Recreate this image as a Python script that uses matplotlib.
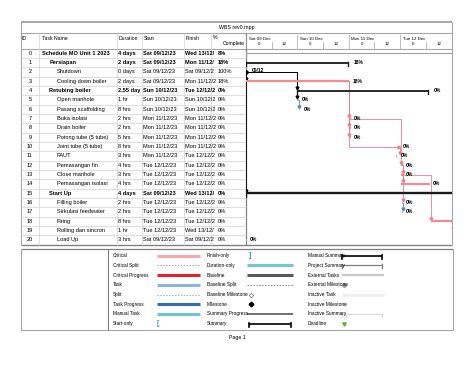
import matplotlib
matplotlib.use("Agg")
import matplotlib.pyplot as plt

plt.rcParams['font.family'] = ['Liberation Sans', 'DejaVu Sans']

# ---- table data ----
ids = list(range(21))
names = ["Schedule MO Unit 1 2023", "Persiapan", "Shutdown", "Cooling down boiler",
         "Retubing boiler", "Open manhole", "Pasang scaffolding", "Buka isolasi",
         "Drain boiler", "Potong tube (5 tube)", "Joint tube (5 tube)", "PAUT",
         "Pemasangan fin", "Close manhole", "Pemasangan isolasi", "Start Up",
         "Filling boiler", "Sirkulasi feedwater", "Firing", "Rolling dan sincron", "Load Up"]
levels = [0, 1, 2, 2, 1, 2, 2, 2, 2, 2, 2, 2, 2, 2, 2, 1, 2, 2, 2, 2, 2]
durations = ["4 days", "2 days", "0 days", "2 days", "2,55 days", "1 hr", "8 hrs", "2 hrs",
             "2 hrs", "5 hrs", "8 hrs", "3 hrs", "4 hrs", "3 hrs", "4 hrs", "4 days",
             "2 hrs", "2 hrs", "8 hrs", "1 hr", "3 hrs"]
starts = ["Sat 09/12/23", "Sat 09/12/23", "Sat 09/12/23", "Sat 09/12/23", "Sun 10/12/23",
          "Sun 10/12/23", "Sun 10/12/23", "Mon 11/12/23", "Mon 11/12/23", "Mon 11/12/23",
          "Mon 11/12/23", "Mon 11/12/23", "Tue 12/12/23", "Tue 12/12/23", "Tue 12/12/23",
          "Sat 09/12/23", "Tue 12/12/23", "Tue 12/12/23", "Tue 12/12/23", "Tue 12/12/23",
          "Sat 09/12/23"]
finishes = ["Wed 13/12/23", "Mon 11/12/23", "Sat 09/12/23", "Mon 11/12/23", "Tue 12/12/23",
            "Sun 10/12/23", "Sun 10/12/23", "Mon 11/12/23", "Mon 11/12/23", "Mon 11/12/23",
            "Mon 11/12/23", "Tue 12/12/23", "Tue 12/12/23", "Tue 12/12/23", "Tue 12/12/23",
            "Wed 13/12/23", "Tue 12/12/23", "Tue 12/12/23", "Tue 12/12/23", "Wed 13/12/23",
            "Sat 09/12/23"]
pcts = ["8%", "18%", "100%", "18%", "0%", "0%", "0%", "0%", "0%", "0%", "0%", "0%", "0%",
        "0%", "0%", "0%", "0%", "0%", "0%", "0%", "0%"]

# ---- gantt data (hours from Sat 09 Dec 00:00) ----
start_h = [0, 0, 0, 0, 24, 24, 24.6, 48.4, 48.4, 48.4, 71.4, 70.0, 72.5, 72.5, 72.3,
           0, 72.8, 72.8, 86.5, 96.3, 0]
finish_h = [96.5, 47.6, 0, 48.3, 85.0, 24.6, 25.4, 48.9, 48.9, 48.9, 72.0, 70.7, 73.2, 73.2,
            86.0, 96.5, 73.4, 73.4, 96.5, 96.8, 0.4]
kinds = ['project', 'summary', 'milestone', 'critical', 'summary', 'task', 'task',
         'critical', 'critical', 'critical', 'critical', 'critical', 'critical', 'critical',
         'critical', 'summary', 'task', 'task', 'critical', 'critical', 'task']
bar_labels = ['', '18%', '09/12', '18%', '0%', '0%', '0%', '0%', '0%', '0%', '0%', '0%',
              '0%', '0%', '0%', '', '0%', '0%', '', '', '0%']
# (pred, succ, route, colour key)
links = [(2, 3, 'v', 'k'), (2, 4, 'hv', 'k'), (2, 5, 'hv', 'k'), (2, 15, 'v', 'k'),
         (5, 6, 'v', 'b'), (3, 7, 'v', 'r'), (3, 8, 'v', 'r'), (3, 9, 'v', 'r'),
         (3, 10, 'vh', 'r'), (7, 12, 'hv', 'r'), (10, 11, 'v', 'r'), (12, 13, 'v', 'r'),
         (12, 14, 'v', 'r'), (12, 16, 'v', 'r'), (16, 17, 'v', 'b'), (13, 18, 'hv', 'r'),
         (18, 19, 'v', 'r')]
days = ["Sat 09 Dec", "Sun 10 Dec", "Mon 11 Dec", "Tue 12 Dec"]
day_start_h = [0, 24, 48, 72]

legend_col1 = ["Critical", "Critical Split", "Critical Progress", "Task", "Split",
               "Task Progress", "Manual Task", "Start-only"]
legend_col2 = ["Finish-only", "Duration-only", "Baseline", "Baseline Split",
               "Baseline Milestone", "Milestone", "Summary Progress", "Summary"]
legend_col3 = ["Manual Summary", "Project Summary", "External Tasks", "External Milestone",
               "Inactive Task", "Inactive Milestone", "Inactive Summary", "Deadline"]

PINK = '#F08C96'
RED = '#E3202A'
BLUE = '#8AB4E3'
DBLUE = '#2F6DB5'
TEAL = '#6FC7D3'
GRID = '#D9D9D9'
BORDER = '#A6A6A6'
link_col = {'k': '#000000', 'r': '#EE7C87', 'b': '#4C86C6'}

FS = 4.1
W, H = 474, 366
LEFT, RIGHT = 21, 452
TOP, TITLE_BOT, HEAD_BOT = 22, 33, 48.66
ROW_H = 9.33
GX = 246
TABLE_BOT = HEAD_BOT + 21 * ROW_H

fig = plt.figure(figsize=(W / 100, H / 100), dpi=100)
base = fig.add_axes([0, 0, 1, 1])
base.set_xlim(0, W)
base.set_ylim(H, 0)
base.axis('off')
renderer = fig.canvas.get_renderer()


def hline(y, x0, x1, c=GRID, lw=0.6):
    base.plot([x0, x1], [y, y], color=c, lw=lw, solid_capstyle='butt')


def vline(x, y0, y1, c=GRID, lw=0.6):
    base.plot([x, x], [y0, y1], color=c, lw=lw, solid_capstyle='butt')


def fit(t, x1):
    # cut the text like a narrow cell does (base axes maps 1 unit = 1 px)
    s = t.get_text()
    while s and t.get_window_extent(renderer).x1 > x1:
        s = s[:-1]
        t.set_text(s)


# frame and title
hline(TOP, LEFT, RIGHT, '#909090', 1.1)
hline(TITLE_BOT, LEFT, RIGHT, BORDER, 0.8)
hline(HEAD_BOT, LEFT, RIGHT, BORDER, 0.8)
hline(TABLE_BOT, LEFT, RIGHT, '#808080', 1.0)
vline(LEFT, TOP, TABLE_BOT, BORDER, 0.8)
vline(RIGHT, TOP, TABLE_BOT, BORDER, 0.8)
vline(GX, TITLE_BOT, TABLE_BOT, '#808080', 0.9)
base.text(237, 27.5, "WBS rev0.mpp", fontsize=3.8, ha='center', va='center')

# table header
col_lines = [39, 117, 142, 184, 211]
for x in col_lines:
    vline(x, TITLE_BOT, TABLE_BOT)
for k in range(1, 21):
    hline(HEAD_BOT + k * ROW_H, LEFT, GX)
for x, lab in [(22, "ID"), (42, "Task Name"), (119, "Duration"), (144, "Start"), (186, "Finish")]:
    base.text(x, 38.5, lab, fontsize=3.7, va='center')
base.text(213, 37.5, "%", fontsize=3.7, va='center')
base.text(245, 44, "Complete", fontsize=3.7, va='center', ha='right')

# table rows
for i in ids:
    y = HEAD_BOT + (i + 0.5) * ROW_H
    bold = kinds[i] in ('summary', 'project')
    fw = 'bold' if bold else 'normal'
    base.text(30, y, str(ids[i]), fontsize=FS, ha='center', va='center')
    t = base.text(42 + levels[i] * 7.5, y, names[i], fontsize=FS, va='center', fontweight=fw)
    fit(t, 117.5)
    t = base.text(118.5, y, durations[i], fontsize=FS, va='center', fontweight=fw)
    fit(t, 142)
    t = base.text(143.5, y, starts[i], fontsize=FS, va='center', fontweight=fw)
    fit(t, 185)
    t = base.text(185.5, y, finishes[i], fontsize=FS, va='center', fontweight=fw)
    fit(t, 217.3)
    base.text(217.5, y, pcts[i], fontsize=FS, va='center', fontweight=fw)

# ---- gantt ----
ax_g = fig.add_axes([GX / W, 1 - TABLE_BOT / H, (RIGHT - GX) / W, (TABLE_BOT - HEAD_BOT) / H])
ax_g.set_xlim(0, 96.2)
ax_g.set_ylim(20.5, -0.5)
ax_g.axis('off')

ax_h = fig.add_axes([GX / W, 1 - HEAD_BOT / H, (RIGHT - GX) / W, (HEAD_BOT - TITLE_BOT) / H],
                    sharex=ax_g)
ax_h.set_ylim(1, 0)
ax_h.axis('off')
for d, s in zip(days, day_start_h):
    ax_h.text(s + 1.2, 0.38, d, fontsize=3.2, va='center')
    ax_h.text(s + 6, 0.72, "0", fontsize=3.2, va='center', ha='center')
    ax_h.text(s + 18, 0.72, "12", fontsize=3.2, va='center', ha='center')
    ax_h.plot([s, s], [0.15, 1], color=BORDER, lw=0.5)
    ax_h.plot([s + 12, s + 12], [0.55, 1], color=BORDER, lw=0.5)
ax_h.plot([96, 96], [0.15, 1], color=BORDER, lw=0.5)

# links first, bars on top
for p, s, route, ck in links:
    c = link_col[ck]
    xf, xs = finish_h[p], start_h[s]
    if route == 'v':
        ax_g.plot([xf, xf], [p, s - 0.25], color=c, lw=0.6)
        ax_g.plot(xf, s - 0.28, marker='v', ms=2.0, color=c)
    elif route == 'hv':
        ax_g.plot([xf, xs, xs], [p, p, s - 0.25], color=c, lw=0.6)
        ax_g.plot(xs, s - 0.28, marker='v', ms=2.0, color=c)
    else:
        ax_g.plot([xf, xf, xs], [p, s, s], color=c, lw=0.6)
        ax_g.plot(xs, s, marker='>', ms=2.0, color=c)

for i in ids:
    s, f, k = start_h[i], finish_h[i], kinds[i]
    if k in ('summary', 'project'):
        c = '#A0A0A0' if k == 'project' else '#1A1A1A'
        lw = 0.8 if k == 'project' else (1.7 if i == 15 else 1.3)
        ax_g.plot([s, f], [i, i], color=c, lw=lw, solid_capstyle='butt')
        for x in (s, f):
            ax_g.plot([x, x], [i - 0.1, i + 0.35], color=c, lw=1.0)
    elif k == 'milestone':
        ax_g.plot(s, i, marker='D', ms=2.0, color='black')
    else:
        c = PINK if k == 'critical' else BLUE
        ax_g.plot([s, f], [i, i], color=c, lw=1.6, solid_capstyle='butt')
    if bar_labels[i]:
        dy = -0.2 if k == 'milestone' else 0
        off = 4 if k in ('summary', 'milestone') else 2.2
        ax_g.annotate(bar_labels[i], (f, i + dy), xytext=(off, 0),
                      textcoords='offset points', fontsize=3.6, fontweight='bold', va='center')

# ---- legend ----
LG_TOP, LG_BOT = 249, 330
hline(LG_TOP, LEFT, 453, '#808080', 0.9)
hline(LG_BOT, LEFT, 453, BORDER, 0.8)
vline(LEFT, LG_TOP, LG_BOT, BORDER, 0.8)
vline(453, LG_TOP, LG_BOT, BORDER, 0.8)
vline(108, LG_TOP, LG_BOT, '#808080', 0.8)

row_y = [255.7 + 9.7 * k for k in range(8)]


def bar(x0, x1, y, c, lw=2.2, ls='-'):
    base.plot([x0, x1], [y, y], color=c, lw=lw, ls=ls, solid_capstyle='butt')


def bracket(x0, x1, y, c, lw=1.2):
    base.plot([x0, x1], [y, y], color=c, lw=lw, solid_capstyle='butt')
    for x in (x0, x1):
        base.plot([x, x], [y - 1, y + 3], color=c, lw=lw)


for lab, y in zip(legend_col1, row_y):
    base.text(113, y, lab, fontsize=3.4, va='center')
for lab, y in zip(legend_col2, row_y):
    base.text(207, y, lab, fontsize=3.4, va='center')
for lab, y in zip(legend_col3, row_y):
    base.text(308, y, lab, fontsize=3.4, va='center')

a0, a1 = 157, 200
bar(a0, a1, row_y[0], '#F6A7AF')
bar(a0, a1, row_y[1], PINK, 0.7, (0, (1.5, 1.5)))
bar(a0, a1, row_y[2], RED)
bar(a0, a1, row_y[3], BLUE)
bar(a0, a1, row_y[4], BLUE, 0.7, (0, (1.5, 1.5)))
bar(a0, a1, row_y[5], DBLUE)
bar(a0, a1, row_y[6], TEAL)
base.text(a0, row_y[7], "[", fontsize=5, color='#1F9BB0', va='center', fontweight='bold')

b0, b1 = 247, 293
base.text(b0 + 2, row_y[0], "]", fontsize=5, color='#1F9BB0', va='center', fontweight='bold')
bar(b0, b1, row_y[1], TEAL)
bar(b0, b1, row_y[2], '#595959')
bar(b0, b1, row_y[3], '#8C8C8C', 0.7, (0, (1.5, 1.5)))
base.plot(b0 + 4, row_y[4], marker='D', ms=2.2, mfc='white', mec='#707070', mew=0.5)
base.plot(b0 + 4, row_y[5], marker='D', ms=2.4, color='black')
bar(b0, b1, row_y[6], '#707070', 1.4)
bracket(b0 + 2, b1 - 2, row_y[7], 'black', 1.2)

c0, c1 = 342, 384
bracket(c0, c1 - 2, row_y[0], 'black', 1.2)
bracket(c0, c1 - 2, row_y[1], '#7F7F7F', 0.9)
bar(c0, c1, row_y[2], '#C8C8C8', 1.6)
base.plot(c0 + 2, row_y[3], marker='D', ms=2.2, color='#A0A0A0')
bar(c0, c1, row_y[4], '#EDEDED', 1.8)
base.plot(c0 + 2, row_y[5], marker='D', ms=2.2, mfc='white', mec='#D0D0D0', mew=0.5)
bracket(c0, c1 - 2, row_y[6], '#D9D9D9', 0.7)
base.plot(c0 + 2, row_y[7], marker='v', ms=2.4, color='#5BAF3C')

base.text(237, 338, "Page 1", fontsize=3.8, ha='center', va='center')

fig.savefig("out.png", dpi=100, facecolor='white')
